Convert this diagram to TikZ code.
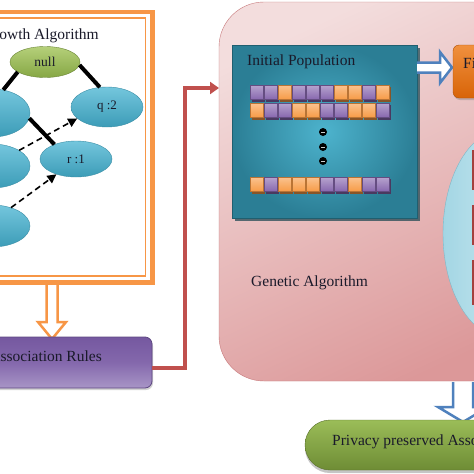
\documentclass[tikz,border=0pt]{standalone}
\usepackage{fontspec}
\setmainfont{Liberation Serif}
\usetikzlibrary{shapes.geometric,shadows,arrows.meta}
\definecolor{fpor}{HTML}{F79646}
\definecolor{treeT}{HTML}{74C6DD}
\definecolor{treeB}{HTML}{3C9CB7}
\definecolor{treeD}{HTML}{3A8EA6}
\definecolor{nullT}{HTML}{B5D07A}
\definecolor{nullB}{HTML}{86A744}
\definecolor{purT}{HTML}{7558A0}
\definecolor{purM}{HTML}{8468AC}
\definecolor{purB}{HTML}{A895C6}
\definecolor{purD}{HTML}{5E4782}
\definecolor{redc}{HTML}{C0504D}
\definecolor{gaT}{HTML}{F3DDDD}
\definecolor{gaB}{HTML}{DC9899}
\definecolor{gaD}{HTML}{C7787A}
\definecolor{popI}{HTML}{4DB3CD}
\definecolor{popO}{HTML}{2B7E95}
\definecolor{popD}{HTML}{1F5F70}
\definecolor{cp}{HTML}{8767AE}
\definecolor{co}{HTML}{F79B46}
\definecolor{bluec}{HTML}{4F81BD}
\definecolor{fitT}{HTML}{F0903E}
\definecolor{fitB}{HTML}{D86408}
\definecolor{lbL}{HTML}{E3F3F7}
\definecolor{lbR}{HTML}{A3D6E4}
\definecolor{lbD}{HTML}{7FB6C6}
\definecolor{barc}{HTML}{A5403E}
\definecolor{grT}{HTML}{9BBD58}
\definecolor{grB}{HTML}{6E8C35}
\definecolor{txtd}{HTML}{1A1A2A}
\tikzset{
  lbl/.style={font=\fontsize{15.5}{17}\selectfont, text=txtd, inner sep=0},
  treenode/.style={ellipse, inner sep=0, top color=treeT, bottom color=treeB, draw=treeD, thin,
     font=\fontsize{13}{14}\selectfont, text=txtd},
  nullnode/.style={ellipse, inner sep=0, top color=nullT, bottom color=nullB, draw=nullB!80!black, thin,
     font=\fontsize{13.5}{14}\selectfont, text=txtd},
  treeedge/.style={line width=4pt, black},
  dasharrow/.style={line width=1.6pt, dashed, dash pattern=on 6pt off 4pt, -{Triangle[length=9pt,width=9pt]}},
  blockarrow/.style={line width=2.5pt, fill=white, line join=miter},
}
\begin{document}
\begin{tikzpicture}[x=1pt,y=-1pt]
\useasboundingbox (0,0) rectangle (474,474);
\clip (0,0) rectangle (474,474);
\fill[white] (0,0) rectangle (474,474);

% FP-Growth frame
\draw[fpor, line width=4.5pt] (-30,12) rectangle (152.5,282.5);
\draw[fpor, line width=1.5pt] (-30,18) rectangle (145.5,276);
\node[lbl, anchor=east] (fptitle) at (99,36) {FP-Growth Algorithm};

% tree
\node[nullnode, minimum width=70, minimum height=31] (null) at (45,62) {null};
\node[treenode, minimum width=76, minimum height=48] (left1) at (-8,113) {};
\node[treenode, minimum width=72, minimum height=40] (q2) at (107,107) {q :2};
\node[treenode, minimum width=72, minimum height=36] (r1) at (76,159) {r :1};
\node[treenode, minimum width=76, minimum height=44] (left2) at (-8,166) {};
\node[treenode, minimum width=76, minimum height=42] (left3) at (-8,226) {};

\draw[treeedge] (null.200) -- (left1.64);
\draw[treeedge] (null.-5) -- (q2.110);
\draw[treeedge] (left1.-8) -- (r1.146);
\draw[dasharrow] (left2.30) -- (q2.201);
\draw[dasharrow] (left3.44) -- (r1.218);

% orange block arrow
\draw[fpor, blockarrow] (46.5,285) -- (46.5,322) -- (38,322) -- (52,339) -- (66,322) -- (57.5,322) -- (57.5,285);

% Association rules box
\node[rounded corners=7, minimum width=190, minimum height=51, draw=purD, thick,
      top color=purT, bottom color=purB, middle color=purM, inner sep=0,
      drop shadow={opacity=0.35, shadow xshift=1pt, shadow yshift=-2pt}] (assoc) at (57,362.5) {};
\node[lbl, anchor=east] (assoctxt) at (102,356) {Association Rules};

% Genetic algorithm box
\node[rounded corners=45, minimum width=330, minimum height=379, draw=gaD, thin,
      top color=gaT, bottom color=gaB, shading angle=25, inner sep=0] (ga) at (384,191.5) {};
\node[lbl, anchor=west] (gatxt) at (251,283) {Genetic Algorithm};
\coordinate (gaentry) at (219,88);

% red connector
\draw[redc, line width=3.5pt, -{Triangle[length=9pt,width=12pt]}]
  ([yshift=-5.5pt]assoc.east) -- (185,368) -- (185,88) -- (gaentry);

% Initial population
\node[minimum width=185, minimum height=173, inner color=popI, outer color=popO, draw=popD, thin, inner sep=0,
      drop shadow={opacity=0.7, fill=popD!70!black, shadow xshift=3pt, shadow yshift=-3pt}] (pop) at (324.5,131.5) {};
\node[lbl, anchor=west] (poptxt) at (247,62) {Initial Population};

\foreach \y/\pat in {85/{cp,cp,co,cp,cp,cp,co,co,cp,co}, 103/{co,cp,cp,co,co,cp,cp,co,co,cp}, 177/{co,cp,co,co,co,cp,cp,co,cp,cp}} {
  \foreach \c [count=\i from 0] in \pat {
    \fill[\c!55!black] (250+14*\i+1.5,\y+2) rectangle ++(13.5,14.5);
    \shade[top color=\c!60!white, bottom color=\c, draw=\c!75!black, line width=0.4pt] (250+14*\i,\y) rectangle ++(13.5,14.5);
  }
}
\foreach \y in {132,147,161} {
  \fill[black] (323,\y) circle (4);
  \fill[white!60!gray] (323,\y) ++(-2,0) rectangle ++(4,0.9);
}

% blue arrow to Fitness
\draw[bluec, blockarrow] (pop.east |- 0,62.5) -- (440,62.5) -- (440,52) -- (452,67.5) -- (440,83) -- (440,72.5) -- (pop.east |- 0,72.5);

% Fitness box
\node[rounded corners=6, minimum width=80, minimum height=53, top color=fitT, bottom color=fitB,
      draw=fitB!80!black, thin, inner sep=0,
      drop shadow={opacity=0.4, shadow xshift=1pt, shadow yshift=-2pt}] (fit) at (493,71.5) {};
\node[lbl, anchor=west] (fittxt) at (463,63) {Fitness};

% operators ellipse
\node[ellipse, minimum width=120, minimum height=207, left color=lbR, right color=lbL, draw=lbD, thin, inner sep=0] (ops) at (503,233.5) {};
\fill[barc] (472,150) rectangle (500,190);
\fill[barc] (472,205) rectangle (500,245);
\fill[barc] (472,260) rectangle (500,305);

% blue down arrow
\draw[bluec, blockarrow] (453,382) -- (453,407) -- (438,407) -- (463,422) -- (488,407) -- (473,407) -- (473,382);

% privacy preserved
\node[rounded corners=25, minimum width=300, minimum height=50, top color=grT, bottom color=grB,
      draw=grB!80!black, thin, inner sep=0,
      drop shadow={opacity=0.45, shadow xshift=0pt, shadow yshift=-3pt}] (ppar) at (455,445) {};
\node[lbl, anchor=west] (ppartxt) at (332,442) {Privacy preserved Association Rules};
\end{tikzpicture}
\end{document}
